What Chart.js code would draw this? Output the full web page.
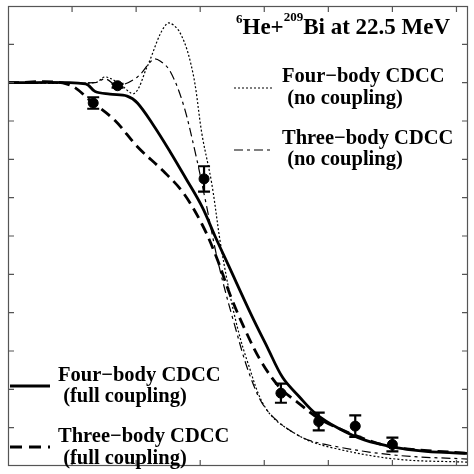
<!DOCTYPE html>
<html><head><meta charset="utf-8">
<script src="https://cdn.jsdelivr.net/npm/chart.js"></script>
<style>html,body{margin:0;padding:0;background:#fff}#w{width:474px;height:474px}</style>
</head><body><div id="w"><canvas id="c"></canvas></div>
<script>
const xTicks=[1,2,3,4,5,6,7];
const yTicks=[1,2,3,4,5,6,7,8,9,10,11];
const fourFullX=[0,1.21,1.36,1.59,1.86,2.02,2.27,2.53,2.77,3.03,3.23,3.44,3.79,4.05,4.29,4.55,4.80,5.15,5.56,6.06,6.52,7.18];
const fourFullY=[10.0,9.97,9.77,9.70,9.65,9.47,8.89,8.20,7.52,6.76,6.0,5.24,3.97,3.09,2.30,1.80,1.37,0.99,0.68,0.48,0.38,0.33];
const threeFullX=[0,0.91,1.33,1.67,2.02,2.42,2.73,3.03,3.26,3.48,3.71,3.94,4.24,4.55,4.85,5.15,5.61,6.06,7.18];
const threeFullY=[10.0,9.97,9.47,9.01,8.33,7.70,7.14,6.30,5.42,4.41,3.52,2.76,2.05,1.62,1.24,0.99,0.68,0.48,0.33];
const fourNoX=[0,1.36,1.52,1.74,1.97,2.17,2.48,2.68,2.88,3.03,3.18,3.33,3.53,3.74,4.05,4.55,5.05,6.06,7.18];
const fourNoY=[10.0,10.0,10.15,9.97,9.72,10.41,11.54,11.32,10.30,8.63,7.37,5.67,3.97,2.71,1.44,0.78,0.48,0.18,0.10];
const threeNoX=[0,1.36,1.52,1.71,2.02,2.27,2.38,2.53,2.73,2.92,3.08,3.29,3.53,3.79,4.05,4.55,5.05,6.06,7.18];
const threeNoY=[10.0,10.0,10.10,9.92,10.15,10.61,10.56,10.30,9.47,8.20,6.94,5.24,3.72,2.30,1.44,0.78,0.53,0.28,0.18];
const expX=[1.33,1.71,3.06,4.26,4.85,5.42,6.0];
const expY=[9.47,9.92,7.49,1.90,1.16,1.04,0.56];
const expErr=[0.15,0.05,0.33,0.25,0.23,0.28,0.18];
const pts=(xs,ys)=>xs.map((x,i)=>({x:x,y:ys[i]}));
const line=(d,w,dash)=>({data:d,showLine:true,borderColor:'#000',borderWidth:w,borderDash:dash,pointRadius:0,tension:0.35,fill:false});
const deco={id:'deco',afterDatasetsDraw(ch){
 const c=ch.ctx,xs=ch.scales.x,ys=ch.scales.y,a=ch.chartArea;
 c.save();c.strokeStyle='#000';c.lineWidth=2.2;
 expX.forEach((x,i)=>{const px=xs.getPixelForValue(x),p1=ys.getPixelForValue(expY[i]+expErr[i]),p2=ys.getPixelForValue(expY[i]-expErr[i]);
  c.beginPath();c.moveTo(px,p1);c.lineTo(px,p2);c.moveTo(px-6,p1);c.lineTo(px+6,p1);c.moveTo(px-6,p2);c.lineTo(px+6,p2);c.stroke();});
 c.strokeStyle='#555';c.lineWidth=1.2;
 xTicks.forEach(t=>{const p=xs.getPixelForValue(t);c.beginPath();c.moveTo(p,a.top);c.lineTo(p,a.top+6);c.moveTo(p,a.bottom);c.lineTo(p,a.bottom-6);c.stroke();});
 yTicks.forEach(t=>{const p=ys.getPixelForValue(t);c.beginPath();c.moveTo(a.left,p);c.lineTo(a.left+6,p);c.moveTo(a.right,p);c.lineTo(a.right-6,p);c.stroke();});
 c.strokeRect(a.left+0.5,a.top+0.5,a.right-a.left-1,a.bottom-a.top-1);
 c.fillStyle='#000';c.textBaseline='alphabetic';
 const F=s=>'bold '+s+'px "Liberation Serif"';
 let x=236;c.font=F(13);c.fillText('6',x,23);x+=c.measureText('6').width;
 c.font=F(23);c.fillText('He+',x,34);x+=c.measureText('He+').width;
 c.font=F(13);c.fillText('209',x,21);x+=c.measureText('209').width;
 c.font=F(23);c.fillText('Bi at 22.5 MeV',x,34);
 c.font=F(20.5);
 c.fillText('Four\u2212body CDCC',282,82);c.fillText(' (no coupling)',282,104);
 c.fillText('Three\u2212body CDCC',282,144);c.fillText(' (no coupling)',282,165);
 c.fillText('Four\u2212body CDCC',58,381);c.fillText(' (full coupling)',58,402);
 c.fillText('Three\u2212body CDCC',58,442);c.fillText(' (full coupling)',58,464);
 const samp=(x1,x2,y,w,d)=>{c.lineWidth=w;c.setLineDash(d);c.strokeStyle='#000';c.beginPath();c.moveTo(x1,y);c.lineTo(x2,y);c.stroke();};
 samp(234,274,88,1.2,[2,2]);samp(234,274,150,1.2,[9,4,3,4]);samp(10,50,386,3,[]);samp(10,50,447,3,[12,7]);
 c.restore();}};
new Chart(document.getElementById('c'),{type:'scatter',
 data:{datasets:[line(pts(fourNoX,fourNoY),1.2,[2,2]),line(pts(threeNoX,threeNoY),1.2,[9,4,3,4]),line(pts(fourFullX,fourFullY),2.8,[]),line(pts(threeFullX,threeFullY),2.8,[11,6]),
  {data:pts(expX,expY),pointRadius:5,pointBackgroundColor:'#000',pointBorderColor:'#000',showLine:false}]},
 options:{animation:false,responsive:true,maintainAspectRatio:false,layout:{padding:0},
  plugins:{legend:{display:false},tooltip:{enabled:false}},
  scales:{x:{type:'linear',min:0,max:7.18,ticks:{display:false},grid:{display:false},border:{display:false}},
   y:{min:0,max:12,ticks:{display:false},grid:{display:false},border:{display:false}}}},
 plugins:[deco]});
</script></body></html>
